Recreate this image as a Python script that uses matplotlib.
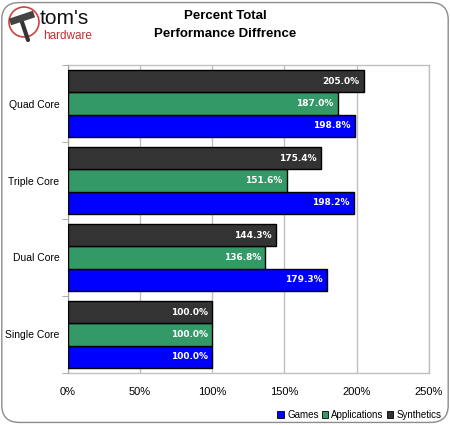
import matplotlib.pyplot as plt
import numpy as np
from matplotlib.patches import FancyBboxPatch, Ellipse
from matplotlib.lines import Line2D

plt.rcParams['font.family'] = ['Liberation Sans', 'DejaVu Sans']

categories = ['Single Core', 'Dual Core', 'Triple Core', 'Quad Core']
games = [100.0, 179.3, 198.2, 198.8]
applications = [100.0, 136.8, 151.6, 187.0]
synthetics = [100.0, 144.3, 175.4, 205.0]
series_names = ['Games', 'Applications', 'Synthetics']
series_colors = ['#0000ff', '#339966', '#333333']
x_ticks = [0, 50, 100, 150, 200, 250]

fig = plt.figure(figsize=(4.5, 4.25), dpi=100)
fig.patch.set_facecolor('white')

# rounded outer frame
frame = FancyBboxPatch((0.004, 0.006), 0.992, 0.988, boxstyle='round,pad=0,rounding_size=0.04',
                       transform=fig.transFigure, facecolor='none', edgecolor='#8c8c8c',
                       linewidth=1.0, zorder=-1)
fig.patches.append(frame)

ax = fig.add_axes([0.151, 0.1224, 0.802, 0.7246])
ax.set_facecolor('white')

y = np.arange(len(categories))
h = 0.29
offsets = [-h, 0, h]
for vals, off, col in zip([games, applications, synthetics], offsets, series_colors):
    bars = ax.barh(y + off, vals, height=h, color=col, edgecolor='black', linewidth=1.0, zorder=3)
    for b, v in zip(bars, vals):
        ax.text(v - 3, b.get_y() + b.get_height() / 2, f'{v:.1f}%', ha='right', va='center',
                color='white', fontsize=6.5, fontweight='bold', family='DejaVu Sans', zorder=4)

ax.set_xlim(0, 250)
ax.set_ylim(-0.5, 3.5)
ax.set_xticks(x_ticks)
ax.set_xticklabels([f'{t}%' for t in x_ticks], fontsize=8)
ax.tick_params(axis='x', length=0, pad=10)
ax.xaxis.grid(True, color='#c0c0c0', linewidth=1.0, zorder=0)

ax.set_yticks(y)
ax.set_yticklabels(categories, fontsize=7.5)
ax.tick_params(axis='y', length=0, pad=6)
ax.set_yticks(np.arange(-0.5, 4.0, 1.0), minor=True)
ax.tick_params(axis='y', which='minor', length=4, color='#a0a0a0', direction='out')

for side in ['top', 'right', 'bottom']:
    ax.spines[side].set_visible(False)
ax.spines['left'].set_color('#a0a0a0')
ax.plot([0, 1], [1, 1], transform=ax.transAxes, color='#c0c0c0', linewidth=1.0, clip_on=False)
ax.plot([1, 1], [0, 1], transform=ax.transAxes, color='#c0c0c0', linewidth=1.0, clip_on=False)
ax.plot([0, 1], [0, 0], transform=ax.transAxes, color='#c0c0c0', linewidth=1.0, clip_on=False)

# title
fig.text(0.5, 0.962, 'Percent Total', ha='center', va='center', fontsize=9.5, fontweight='bold')
fig.text(0.5, 0.919, 'Performance Diffrence', ha='center', va='center', fontsize=9.5, fontweight='bold')

# logo: red ring with a simple hammer
fig.patches.append(Ellipse((24 / 450, 1 - 22 / 425), 30 / 450, 30 / 425, transform=fig.transFigure,
                           facecolor='none', edgecolor='#d04040', linewidth=1.2))
fig.lines.append(Line2D([22 / 450, 28 / 450], [1 - 22 / 425, 1 - 40 / 425], transform=fig.transFigure,
                        color='#333333', linewidth=3, solid_capstyle='round'))
fig.lines.append(Line2D([10 / 450, 34 / 450], [1 - 22 / 425, 1 - 14 / 425], transform=fig.transFigure,
                        color='#444444', linewidth=5, solid_capstyle='butt'))
fig.text(40 / 450, 1 - 19 / 425, "tom's", ha='left', va='center', fontsize=15, color='#111111')
fig.text(43 / 450, 1 - 36 / 425, 'hardware', ha='left', va='center', fontsize=8.5, color='#c03030')

# legend
handles = [plt.Rectangle((0, 0), 1, 1, facecolor=c, edgecolor='black', linewidth=0.6) for c in series_colors]
fig.legend(handles, series_names, loc='lower right', bbox_to_anchor=(1.0, -0.008), ncol=3,
           frameon=False, fontsize=7, handlelength=0.7, handleheight=0.7, handletextpad=0.3,
           columnspacing=0.3)

fig.savefig('out.png', dpi=100)
